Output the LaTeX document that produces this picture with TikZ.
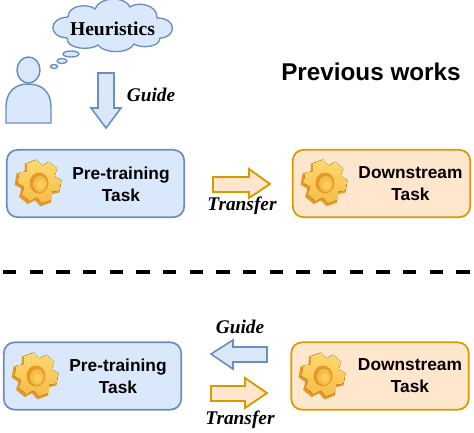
\documentclass[tikz,border=0pt]{standalone}
\usepackage{fontspec}
\setmainfont{Liberation Serif}
\setsansfont{Liberation Sans}
\usetikzlibrary{calc}
\definecolor{bluefill}{HTML}{DAE8FC}
\definecolor{blueline}{HTML}{6C8EBF}
\definecolor{orangefill}{HTML}{FFE6CC}
\definecolor{orangeline}{HTML}{D79B00}
\definecolor{geartop}{HTML}{FFD970}
\definecolor{gearmid}{HTML}{F6BC48}
\definecolor{gearbot}{HTML}{E59A28}
\tikzset{
  x=0.75pt,y=-0.75pt,
  bluebox/.style={draw=blueline,fill=bluefill,line width=1.3pt,rounded corners=8pt,minimum width=133pt,minimum height=50.5pt,inner sep=0pt},
  orangebox/.style={draw=orangeline,fill=orangefill,line width=1.3pt,rounded corners=8pt,minimum width=133pt,minimum height=50.5pt,inner sep=0pt},
  bluearrow/.style={draw=blueline,fill=bluefill,line width=1.2pt,line join=miter},
  orangearrow/.style={draw=orangeline,fill=orangefill,line width=1.4pt,line join=miter},
  tasklabel/.style={font=\sffamily\bfseries\fontsize{13}{16.5}\selectfont,align=center,text=black,inner sep=0pt},
  edgelabel/.style={font=\bfseries\itshape\fontsize{14.5}{16}\selectfont,text=black,inner sep=0pt},
  puff/.style={draw=blueline,fill=bluefill,line width=1pt},
  gear/.pic={
    \fill[gearbot] \foreach \a [count=\i] in {10,70,130,190,250,310}{
      \ifnum\i=1 ({\a-28}:18) \else -- ({\a-28}:18) \fi
      -- ({\a-14}:23.5) -- ({\a+14}:23.5) -- ({\a+28}:18)
    } -- cycle;
    \begin{scope}[shift={(1.5,-1.5)}]
    \fill[top color=geartop,bottom color=gearmid] \foreach \a [count=\i] in {10,70,130,190,250,310}{
      \ifnum\i=1 ({\a-28}:16.5) \else -- ({\a-28}:16.5) \fi
      -- ({\a-14}:22) -- ({\a+14}:22) -- ({\a+28}:16.5)
    } -- cycle;
    \end{scope}
    \fill[gearbot] (1,0) ellipse[x radius=9.5,y radius=10.5];
    \fill[gearmid] (2,1) ellipse[x radius=7,y radius=8];
    \fill[geartop!60!gearmid] (3,2) ellipse[x radius=4,y radius=4.5];
  }
}
\begin{document}
\begin{tikzpicture}
\useasboundingbox (0,0) rectangle (474,432);
% top row
\node[bluebox] (pre1) at (95.5,183.5) {};
\node[orangebox] (down1) at (381.5,183.5) {};
\node[tasklabel] (pre1t) at (121,184) {Pre-training\\Task};
\node[tasklabel] (down1t) at (410.5,183.5) {Downstream\\Task};
\pic at (38,183) {gear};
\pic at (324,183) {gear};
% person
\draw[puff,line width=1.1pt] (6,123) -- (6,107) .. controls (6,92) and (15,84) .. (28,84) .. controls (42,84) and (51,92) .. (51,107) -- (51,123) -- cycle;
\draw[puff,line width=1.1pt] (28.5,70) ellipse[x radius=11.5,y radius=13];
% thought
\draw[puff] (54,66.5) ellipse[x radius=3.5,y radius=2];
\draw[puff] (62,61) ellipse[x radius=5,y radius=2.5];
\draw[puff] (71,54) ellipse[x radius=8,y radius=3];
\begin{scope}
\clip (0,0) rectangle (474,432);
\draw[puff] (68,17)
  .. controls (68,5) and (88,3) .. (95,9)
  .. controls (100,-4) and (125,-4) .. (130,7)
  .. controls (138,1) and (158,5) .. (157,18)
  .. controls (178,18) and (176,38) .. (160,38)
  .. controls (160,47) and (142,49) .. (134,44)
  .. controls (128,55) and (103,53) .. (98,45)
  .. controls (90,51) and (66,49) .. (67,38)
  .. controls (48,37) and (48,18) .. (68,17) -- cycle;
\end{scope}
\node[font=\bfseries\fontsize{14.7}{17}\selectfont,inner sep=0pt] (heur) at (112.5,29) {Heuristics};
% guide arrow
\draw[bluearrow] (98,73) -- (114,73) -- (114,108) -- (121,108) -- (106,128) -- (91,108) -- (98,108) -- cycle;
\node[edgelabel] (g1) at (151,95) {Guide};
\node[font=\sffamily\bfseries\fontsize{18.2}{20}\selectfont,inner sep=0pt] (title) at (371,72) {Previous works};
% transfer arrow
\draw[orangearrow] (213,177) -- (249,177) -- (249,169) -- (270,184) -- (249,198) -- (249,192) -- (213,192) -- cycle;
\node[edgelabel] (t1) at (242,206) {Transfer};
% divider
\coordinate (dl) at (3,272);
\coordinate (dr) at (474,272);
\draw[black,line width=3.4pt,dash pattern=on 10pt off 10pt] (dl) -- (dr);
% bottom row
\node[bluebox] (pre2) at (92.5,376) {};
\node[orangebox] (down2) at (380,376) {};
\node[tasklabel] (pre2t) at (118,376) {Pre-training\\Task};
\node[tasklabel] (down2t) at (410,376) {Downstream\\Task};
\pic at (35,376) {gear};
\pic at (322,376) {gear};
\draw[bluearrow] (211,354) -- (233,340) -- (233,347) -- (267,347) -- (267,362) -- (233,362) -- (233,369) -- cycle;
\draw[orangearrow] (211,386) -- (245,386) -- (245,378) -- (267,393) -- (245,408) -- (245,401) -- (211,401) -- cycle;
\node[edgelabel] (g2) at (240,327) {Guide};
\node[edgelabel] (t2) at (240,420) {Transfer};
\end{tikzpicture}
\end{document}
